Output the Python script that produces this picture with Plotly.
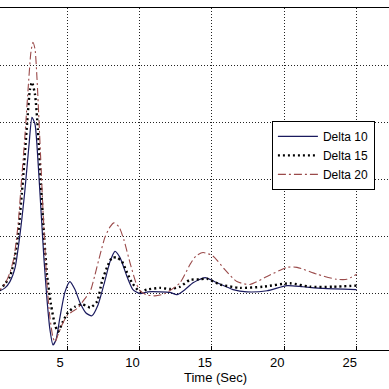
import plotly.graph_objects as go

# Time (s) and response values (grid units)
t10 = [0.0, 0.37, 0.72, 1.06, 1.41, 1.75, 2.10, 2.38, 2.58, 2.79, 2.99, 3.20, 3.41, 3.62, 3.82, 4.03, 4.24, 4.51, 4.86, 5.20, 5.55, 5.90, 6.31, 6.72, 7.14, 7.55, 7.97, 8.31, 8.66, 9.14, 9.55, 10.04, 10.59, 11.42, 12.11, 12.59, 13.15, 13.70, 14.53, 15.35, 16.46, 17.42, 18.81, 20.19, 21.29, 22.67, 25.0]
y10 = [0.02, 0.04, 0.09, 0.20, 0.44, 1.02, 1.82, 2.61, 3.08, 2.96, 2.34, 1.46, 0.59, -0.12, -0.64, -0.91, -0.82, -0.43, 0.02, 0.20, 0.06, -0.17, -0.35, -0.40, -0.21, 0.15, 0.55, 0.73, 0.62, 0.29, 0.06, -0.01, 0.02, 0.02, 0.01, -0.03, 0.06, 0.18, 0.27, 0.18, 0.06, 0.02, 0.04, 0.13, 0.11, 0.08, 0.06]

t15 = [0.0, 0.37, 0.72, 1.06, 1.34, 1.62, 1.96, 2.24, 2.44, 2.58, 2.79, 2.99, 3.20, 3.41, 3.62, 3.89, 4.17, 4.38, 4.72, 5.07, 5.55, 6.03, 6.45, 6.59, 7.07, 7.41, 7.76, 8.11, 8.45, 8.80, 9.14, 9.49, 10.04, 10.52, 11.42, 12.11, 12.80, 13.49, 14.18, 14.66, 15.56, 16.94, 18.53, 20.39, 21.77, 23.36, 25.0]
y15 = [0.02, 0.06, 0.16, 0.29, 0.55, 1.02, 1.99, 2.96, 3.57, 3.70, 3.48, 2.87, 1.90, 1.02, 0.32, -0.20, -0.56, -0.68, -0.50, -0.34, -0.24, -0.20, -0.24, -0.26, -0.15, 0.20, 0.45, 0.62, 0.62, 0.55, 0.36, 0.18, 0.02, 0.06, 0.09, 0.07, 0.11, 0.23, 0.24, 0.25, 0.15, 0.09, 0.11, 0.17, 0.11, 0.11, 0.13]

t20 = [0.0, 0.37, 0.72, 1.06, 1.34, 1.62, 1.89, 2.10, 2.31, 2.51, 2.65, 2.79, 2.93, 3.06, 3.20, 3.34, 3.48, 3.62, 3.82, 4.03, 4.17, 4.38, 4.65, 5.00, 5.34, 5.76, 6.17, 6.59, 6.93, 7.28, 7.62, 7.97, 8.24, 8.59, 8.93, 9.35, 9.76, 10.04, 10.45, 11.07, 11.76, 12.80, 13.49, 13.90, 14.39, 15.07, 15.90, 16.73, 17.63, 18.81, 20.19, 20.88, 22.26, 23.63, 24.32, 25.0]
y20 = [0.02, 0.06, 0.16, 0.36, 0.62, 1.20, 2.08, 2.78, 3.57, 4.23, 4.40, 4.28, 3.75, 3.05, 2.26, 1.46, 0.76, 0.15, -0.43, -0.78, -0.86, -0.73, -0.56, -0.40, -0.33, -0.26, -0.12, 0.02, 0.32, 0.67, 0.98, 1.16, 1.23, 1.16, 0.93, 0.53, 0.18, 0.04, -0.03, -0.05, -0.01, 0.18, 0.50, 0.65, 0.71, 0.65, 0.41, 0.20, 0.15, 0.29, 0.45, 0.45, 0.33, 0.24, 0.24, 0.33]

xticks = [5, 10, 15, 20, 25]
yticks = [-1, 0, 1, 2, 3, 4, 5]
names = ["Delta 10", "Delta 15", "Delta 20"]

fig = go.Figure()
fig.add_trace(go.Scatter(x=t10, y=y10, mode="lines", name=names[0],
                         line=dict(color="#1a1a5e", width=1.2, shape="spline", smoothing=0.6)))
fig.add_trace(go.Scatter(x=t15, y=y15, mode="lines", name=names[1],
                         line=dict(color="#000000", width=2.4, dash="2px,3px", shape="spline", smoothing=0.6)))
fig.add_trace(go.Scatter(x=t20, y=y20, mode="lines", name=names[2],
                         line=dict(color="#9a4a4a", width=1.1, dash="8px,3px,2px,3px", shape="spline", smoothing=0.6)))

fig.update_layout(
    width=389, height=389,
    margin=dict(l=0, r=0, t=8, b=39),
    paper_bgcolor="white", plot_bgcolor="white",
    font=dict(family="Liberation Sans, Arial, sans-serif", size=13, color="black"),
    showlegend=True,
    legend=dict(x=0.699, y=0.67, xanchor="left", yanchor="top",
                bordercolor="black", borderwidth=1, bgcolor="white",
                font=dict(size=12), itemwidth=40, tracegroupgap=0),
)
fig.update_xaxes(range=[0.373, 27.23], tickvals=xticks, ticktext=[str(v) for v in xticks],
                 showgrid=True, gridcolor="#222", griddash="1px,2px", gridwidth=1,
                 showline=True, mirror=True, linecolor="black", linewidth=1,
                 ticks="inside", ticklen=4, tickcolor="black", zeroline=False,
                 ticklabelshift=-7, tickfont=dict(size=13))
fig.update_yaxes(range=[-1, 5], tickvals=yticks, showticklabels=False,
                 showgrid=True, gridcolor="#222", griddash="1px,2px", gridwidth=1,
                 showline=False, zeroline=False, ticks="")
fig.add_annotation(text="Time (Sec)", xref="paper", yref="paper", x=215/389, y=-0.08,
                   xanchor="center", yanchor="middle", showarrow=False,
                   font=dict(size=13))

fig.write_html("out.html", config={"displayModeBar": False},
               post_script="document.body.style.margin='0px';document.body.style.overflow='hidden';")
